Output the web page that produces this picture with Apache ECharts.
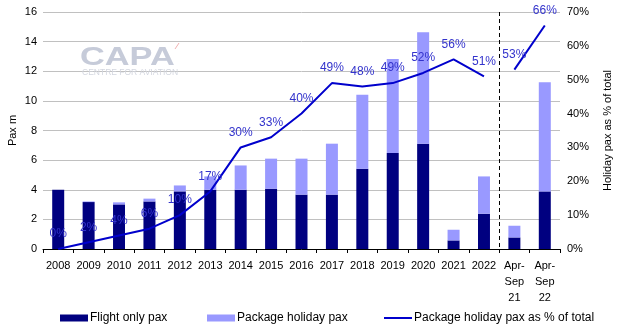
<!DOCTYPE html>
<html>
<head>
<meta charset="utf-8">
<script src="https://cdn.jsdelivr.net/npm/echarts@6/dist/echarts.min.js"></script>
<style>
  html, body { margin: 0; padding: 0; background: #fff; }
  #chart { width: 620px; height: 329px; }
</style>
</head>
<body>
<div id="chart"></div>
<script>
// Passengers (millions) split by booking type, plus package share of total
const categories = ['2008', '2009', '2010', '2011', '2012', '2013', '2014', '2015', '2016',
  '2017', '2018', '2019', '2020', '2021', '2022', 'Apr-\nSep\n21', 'Apr-\nSep\n22'];
const flightOnly = [4.0, 3.17, 3.01, 3.21, 3.89, 4.0, 4.0, 4.07, 3.67, 3.67, 5.42, 6.48, 7.11, 0.58, 2.38, 0.78, 3.89];
const packageHoliday = [0.0, 0.04, 0.14, 0.19, 0.40, 0.9, 1.64, 2.03, 2.43, 3.44, 5.0, 6.35, 7.52, 0.72, 2.52, 0.79, 7.36];
// Annual share (2008-2022) and half-year share (Apr-Sep) are drawn as separate segments
const shareAnnual = [0, 2, 4, 6, 10, 17, 30, 33, 40, 49, 48, 49, 52, 56, 51, '-', '-'];
const shareHalfYear = ['-', '-', '-', '-', '-', '-', '-', '-', '-', '-', '-', '-', '-', '-', '-', 53, 66];
const leftTicks = { min: 0, max: 16, interval: 2 };
const rightTicks = { min: 0, max: 70, interval: 10 };

const FONT = 'Liberation Sans, Arial, sans-serif';
const NAVY = '#000080';
const LILAC = '#9999ff';
const LINE = '#0000cc';
const LABEL = '#3333cc';
const SHARE_NAME = 'Package holiday pax as % of total';

const chart = echarts.init(document.getElementById('chart'), null, { renderer: 'canvas' });

const lineLabel = {
  show: true,
  position: 'top',
  distance: 9,
  formatter: p => p.value + '%',
  color: LABEL,
  fontFamily: FONT,
  fontSize: 12
};

// One legend block per entry so each sits at its own position on the row
function legendAt(left, name, icon) {
  return {
    left: left,
    top: 312,
    padding: 0,
    itemWidth: 28,
    itemHeight: 7,
    itemGap: 0,
    textStyle: { fontFamily: FONT, fontSize: 12, color: '#000', padding: [0, 0, 0, -3] },
    data: [icon ? { name: name, icon: icon } : { name: name }]
  };
}

const option = {
  animation: false,
  textStyle: { fontFamily: FONT },
  grid: { left: 43, right: 60, top: 12, bottom: 80, containLabel: false, outerBoundsMode: 'none' },
  legend: [
    legendAt(60, 'Flight only pax', 'rect'),
    legendAt(207, 'Package holiday pax', 'rect'),
    legendAt(384, SHARE_NAME, 'path://M0,0H28V2H0Z')
  ],
  xAxis: {
    type: 'category',
    data: categories,
    boundaryGap: true,
    axisLine: { lineStyle: { color: '#000', width: 1 } },
    axisTick: { show: true, length: 4, lineStyle: { color: '#000' } },
    axisLabel: { color: '#000', fontFamily: FONT, fontSize: 11, lineHeight: 16, margin: 9, interval: 0 }
  },
  yAxis: [
    {
      type: 'value',
      min: leftTicks.min, max: leftTicks.max, interval: leftTicks.interval,
      name: 'Pax m',
      nameLocation: 'middle',
      nameGap: 25,
      nameMoveOverlap: false,
      nameRotate: 90,
      nameTextStyle: { color: '#000', fontFamily: FONT, fontSize: 11 },
      axisLine: { show: false },
      axisTick: { show: false },
      axisLabel: { color: '#000', fontFamily: FONT, fontSize: 11, margin: 6 },
      splitLine: { lineStyle: { color: '#c0c0c0', width: 1 } }
    },
    {
      type: 'value',
      min: rightTicks.min, max: rightTicks.max, interval: rightTicks.interval,
      name: 'Holiday pax as % of total',
      nameLocation: 'middle',
      nameGap: 42,
      nameMoveOverlap: false,
      nameRotate: 90,
      nameTextStyle: { color: '#000', fontFamily: FONT, fontSize: 11 },
      axisLine: { show: false },
      axisTick: { show: false },
      axisLabel: { color: '#000', fontFamily: FONT, fontSize: 11, margin: 7, formatter: '{value}%' },
      splitLine: { show: false }
    }
  ],
  series: [
    {
      name: 'Flight only pax',
      type: 'bar',
      stack: 'pax',
      barWidth: 12,
      itemStyle: { color: NAVY },
      data: flightOnly,
      z: 2
    },
    {
      name: 'Package holiday pax',
      type: 'bar',
      stack: 'pax',
      barWidth: 12,
      itemStyle: { color: LILAC },
      data: packageHoliday,
      z: 2
    },
    {
      name: SHARE_NAME,
      type: 'line',
      yAxisIndex: 1,
      symbol: 'circle',
      symbolSize: 0,
      showSymbol: true,
      lineStyle: { color: LINE, width: 2 },
      itemStyle: { color: LINE },
      label: lineLabel,
      labelLayout: { hideOverlap: false },
      data: shareAnnual,
      z: 3
    },
    {
      name: SHARE_NAME,
      type: 'line',
      yAxisIndex: 1,
      symbol: 'circle',
      symbolSize: 0,
      showSymbol: true,
      lineStyle: { color: LINE, width: 2 },
      itemStyle: { color: LINE },
      label: lineLabel,
      labelLayout: { hideOverlap: false },
      data: shareHalfYear,
      z: 3
    }
  ]
};

chart.setOption(option);

// Dashed divider between the annual and the half-year categories,
// plus the faint CAPA watermark behind the plot.
const xa = chart.convertToPixel({ xAxisIndex: 0 }, 14);
const xb = chart.convertToPixel({ xAxisIndex: 0 }, 15);
const yTop = chart.convertToPixel({ yAxisIndex: 0 }, leftTicks.max);
const yBottom = chart.convertToPixel({ yAxisIndex: 0 }, leftTicks.min);
const xDiv = Math.round((xa + xb) / 2) + 0.5;

chart.setOption({
  graphic: [
    {
      type: 'line',
      shape: { x1: xDiv, y1: yTop, x2: xDiv, y2: yBottom },
      style: { stroke: '#000', lineWidth: 1, lineDash: [4, 3] },
      z: 10
    },
    {
      type: 'text',
      x: 80, y: 58,
      scaleX: 1.32,
      style: { text: 'CAPA', font: 'bold 26px ' + FONT, fill: '#c6cbd9', verticalAlign: 'middle' },
      z: 0
    },
    {
      type: 'text',
      x: 82, y: 73,
      style: { text: 'CENTRE FOR AVIATION', font: '8.5px ' + FONT, fill: '#d3d6df', verticalAlign: 'middle' },
      z: 0
    },
    {
      type: 'line',
      shape: { x1: 175, y1: 49, x2: 179, y2: 43 },
      style: { stroke: '#f0b0b0', lineWidth: 1 },
      z: 0
    }
  ]
});
</script>
</body>
</html>
